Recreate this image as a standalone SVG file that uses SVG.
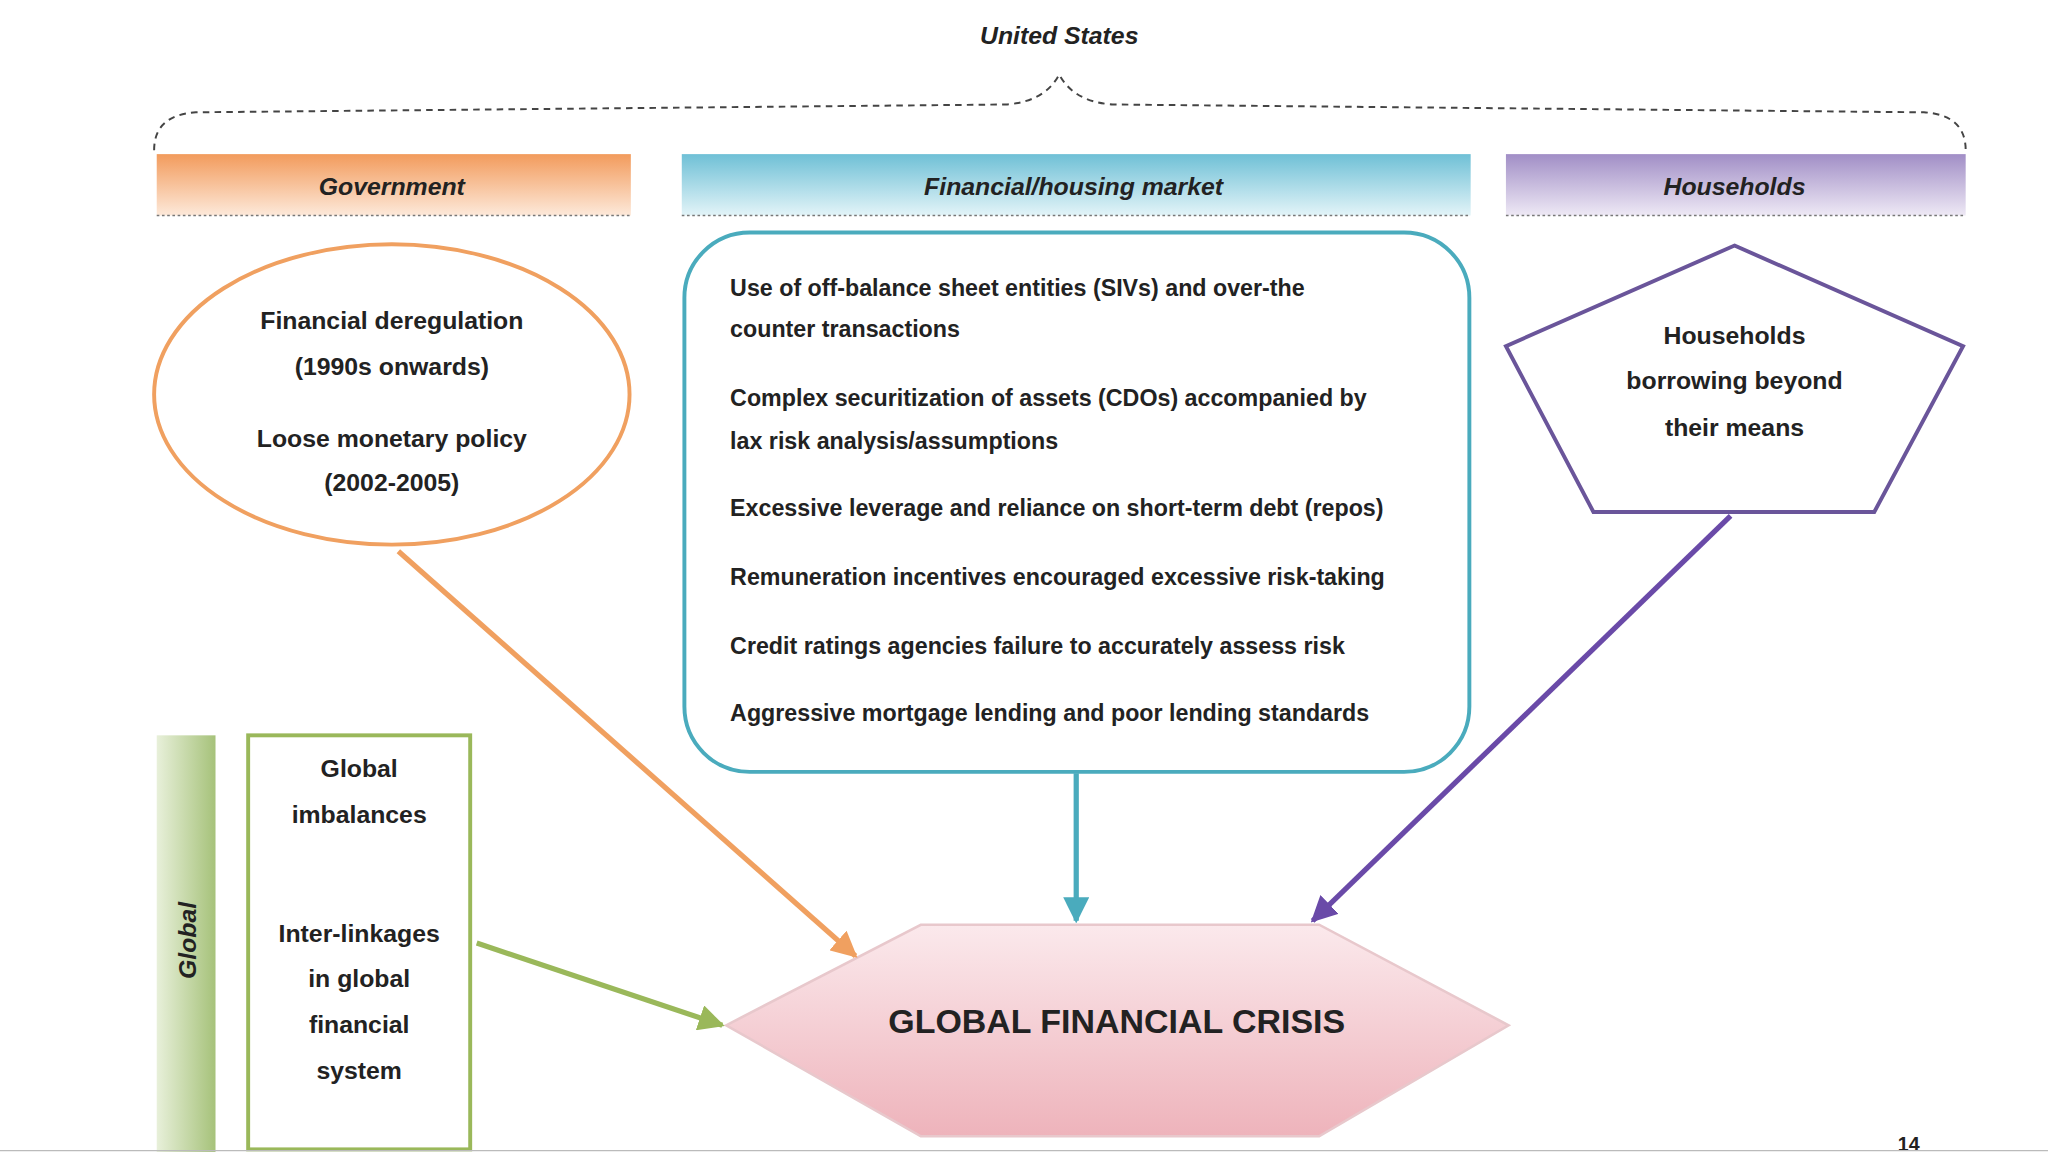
<svg xmlns="http://www.w3.org/2000/svg" width="2048" height="1152" viewBox="0 0 2048 1152">
<style>
.t{font-family:"Liberation Sans",Arial,sans-serif;font-weight:bold;fill:#222;}
.h{font-family:"Liberation Sans",Arial,sans-serif;font-weight:bold;font-style:italic;fill:#222;font-size:19px;text-anchor:middle;}
.b{font-size:17.8px;}
.c{font-size:19px;text-anchor:middle;}
</style>
<defs>
<linearGradient id="go" x1="0" y1="0" x2="0" y2="1"><stop offset="0" stop-color="#f29b5c"/><stop offset="1" stop-color="#fde9da"/></linearGradient>
<linearGradient id="gb" x1="0" y1="0" x2="0" y2="1"><stop offset="0" stop-color="#6fc0d6"/><stop offset="1" stop-color="#e3f4f8"/></linearGradient>
<linearGradient id="gp" x1="0" y1="0" x2="0" y2="1"><stop offset="0" stop-color="#a18ec6"/><stop offset="1" stop-color="#eee9f5"/></linearGradient>
<linearGradient id="gg" x1="0" y1="0" x2="1" y2="0"><stop offset="0" stop-color="#e8f0da"/><stop offset="1" stop-color="#a6c27a"/></linearGradient>
<linearGradient id="gk" x1="0" y1="0" x2="0" y2="1"><stop offset="0" stop-color="#fbe9ec"/><stop offset="1" stop-color="#eeb3bb"/></linearGradient>
<marker id="mo" viewBox="0 0 10 10" refX="9" refY="5" markerWidth="5" markerHeight="5" orient="auto"><path d="M0,0L10,5L0,10z" fill="#f0a060"/></marker>
<marker id="mb" viewBox="0 0 10 10" refX="9" refY="5" markerWidth="5" markerHeight="5" orient="auto"><path d="M0,0L10,5L0,10z" fill="#4aabbd"/></marker>
<marker id="mp" viewBox="0 0 10 10" refX="9" refY="5" markerWidth="5" markerHeight="5" orient="auto"><path d="M0,0L10,5L0,10z" fill="#6a4aa8"/></marker>
<marker id="mg" viewBox="0 0 10 10" refX="9" refY="5" markerWidth="5" markerHeight="5" orient="auto"><path d="M0,0L10,5L0,10z" fill="#9ab85a"/></marker>
</defs>
<rect width="2048" height="1152" fill="#fff"/>
<g transform="scale(1.3061)">
<g id="us">
<text class="h" x="811" y="34" font-size="18">United States</text>
<path d="M118,115 Q118,88 150,86 L770,80 Q800,78 811,57 Q822,78 852,80 L1473,86 Q1505,88 1505,115" fill="none" stroke="#444" stroke-width="1.5" stroke-dasharray="5,4"/>
</g>
<g id="gov-h"><rect x="120" y="118" width="363" height="47" fill="url(#go)"/><line x1="120" y1="165" x2="483" y2="165" stroke="#777" stroke-dasharray="2,2"/><text class="h" x="300" y="149">Government</text></g>
<g id="fin-h"><rect x="522" y="118" width="604" height="47" fill="url(#gb)"/><line x1="522" y1="165" x2="1126" y2="165" stroke="#777" stroke-dasharray="2,2"/><text class="h" x="822" y="149">Financial/housing market</text></g>
<g id="hh-h"><rect x="1153" y="118" width="352" height="47" fill="url(#gp)"/><line x1="1153" y1="165" x2="1505" y2="165" stroke="#777" stroke-dasharray="2,2"/><text class="h" x="1328" y="149">Households</text></g>
<g id="gov">
<ellipse cx="300" cy="302" rx="182" ry="115" fill="#fff" stroke="#f0a060" stroke-width="3"/>
<text class="t c" x="300" y="252">Financial deregulation</text>
<text class="t c" x="300" y="287">(1990s onwards)</text>
<text class="t c" x="300" y="342">Loose monetary policy</text>
<text class="t c" x="300" y="376">(2002-2005)</text>
</g>
<g id="fin">
<rect x="524" y="178" width="601" height="413" rx="50" fill="#fff" stroke="#4aabbd" stroke-width="3"/>
<text class="t b" x="559" y="227">Use of off-balance sheet entities (SIVs) and over-the</text>
<text class="t b" x="559" y="258">counter transactions</text>
<text class="t b" x="559" y="311">Complex securitization of assets (CDOs) accompanied by</text>
<text class="t b" x="559" y="344">lax risk analysis/assumptions</text>
<text class="t b" x="559" y="395">Excessive leverage and reliance on short-term debt (repos)</text>
<text class="t b" x="559" y="448">Remuneration incentives encouraged excessive risk-taking</text>
<text class="t b" x="559" y="501">Credit ratings agencies failure to accurately assess risk</text>
<text class="t b" x="559" y="552">Aggressive mortgage lending and poor lending standards</text>
</g>
<g id="hh">
<polygon points="1328,188 1503,265 1435,392 1220,392 1153,265" fill="#fff" stroke="#6a559a" stroke-width="3"/>
<text class="t c" x="1328" y="263">Households</text>
<text class="t c" x="1328" y="298">borrowing beyond</text>
<text class="t c" x="1328" y="334">their means</text>
</g>
<g id="global-bar"><rect x="120" y="563" width="45" height="319" fill="url(#gg)"/><text class="h" transform="translate(150,720) rotate(-90)">Global</text></g>
<g id="global">
<rect x="190" y="563" width="170" height="317" fill="#fff" stroke="#9ab85a" stroke-width="3"/>
<text class="t c" x="275" y="595">Global</text>
<text class="t c" x="275" y="630">imbalances</text>
<text class="t c" x="275" y="721">Inter-linkages</text>
<text class="t c" x="275" y="756">in global</text>
<text class="t c" x="275" y="791">financial</text>
<text class="t c" x="275" y="826">system</text>
</g>
<g id="gfc">
<polygon points="556,785 705,708 1010,708 1155,785 1010,870 705,870" fill="url(#gk)" stroke="#e8c8cc" stroke-width="2"/>
<text class="t" x="855" y="791" font-size="26" text-anchor="middle">GLOBAL FINANCIAL CRISIS</text>
</g>
<g id="connectors" fill="none" stroke-width="4">
<line x1="305" y1="422" x2="655" y2="732" stroke="#f0a060" marker-end="url(#mo)"/>
<line x1="824" y1="592" x2="824" y2="705" stroke="#4aabbd" marker-end="url(#mb)"/>
<line x1="1325" y1="395" x2="1005" y2="705" stroke="#6a4aa8" marker-end="url(#mp)"/>
<line x1="365" y1="722" x2="553" y2="785" stroke="#9ab85a" marker-end="url(#mg)"/>
</g>
<text class="t" x="1453" y="881" font-size="15" font-weight="normal">14</text>
<line x1="0" y1="881" x2="1568" y2="881" stroke="#bbb" stroke-width="1"/>
</g>
</svg>
